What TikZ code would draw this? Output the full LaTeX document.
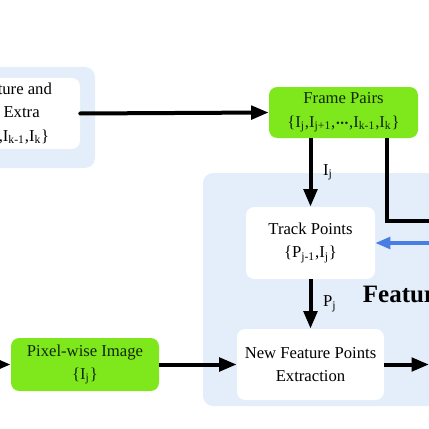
\documentclass[tikz,border=0pt]{standalone}
\usepackage{fontspec}
\setmainfont{Liberation Serif}
\usetikzlibrary{arrows.meta,positioning}
\definecolor{panelblue}{RGB}{228,238,250}
\definecolor{inputgreen}{RGB}{126,232,28}
\definecolor{textgreen}{RGB}{16,40,6}
\definecolor{feedblue}{RGB}{74,124,230}
\newcommand{\Isub}[1]{I\textsubscript{#1}}
\newcommand{\Psub}[1]{P\textsubscript{#1}}
\newcommand{\tightdots}{{\boldmath$\mathord{\cdot}\mkern-1mu\mathord{\cdot}\mkern-1mu\mathord{\cdot}$}}
\tikzset{
  panel/.style={fill=panelblue, rounded corners=6pt},
  stepbox/.style={fill=white, rounded corners=5pt, align=center, inner sep=0pt,
    font=\fontsize{10}{14}\selectfont},
  inbox/.style={fill=inputgreen, rounded corners=5pt, align=center, inner sep=0pt,
    text=textgreen, font=\fontsize{10}{14}\selectfont},
  flow/.style={line width=2.4pt, -{Triangle[length=10.5pt,width=8pt]}},
  flowlabel/.style={right, xshift=3pt, font=\fontsize{10}{12}\selectfont},
}
\begin{document}
\begin{tikzpicture}[x=0.6pt,y=-0.6pt]
\clip (0,0) rectangle (429,429);
% panels
\fill[panel] (-120,67) rectangle (95,168);
\fill[panel] (203,173) rectangle (470,406);
% boxes
\node[stepbox, minimum width=109.8pt, minimum height=42.6pt] (cap) at (-11.5,113.5)
  {Image Capture and\\Selecting Extra\\\{\Isub{1},\Isub{2},\Isub{3},\tightdots,\Isub{k-1},\Isub{k}\}};
\node[inbox, minimum width=89.4pt, minimum height=30.6pt] (fp) at (343.5,112.5)
  {Frame Pairs\\\{\Isub{j},\Isub{j+1},\tightdots,\Isub{k-1},\Isub{k}\}};
\node[stepbox, minimum width=77.4pt, minimum height=43.2pt] (tp) at (310.5,243)
  {Track Points\\\{\Psub{j-1},\Isub{j}\}};
\node[stepbox, minimum width=88.2pt, minimum height=42.6pt] (nf) at (310.5,364.5)
  {New Feature Points\\Extraction};
\node[inbox, minimum width=88.8pt, minimum height=31.8pt] (px) at (85,364.5)
  {Pixel-wise Image\\\{\Isub{j}\}};
\node[anchor=west, font=\fontsize{15}{18}\selectfont\bfseries] (ft) at (357,297) {Feature Tracking};
% loose ends
\coordinate (loopend) at (450,221);
\coordinate (feedin) at (450,243);
\coordinate (nfout) at (429,364.5);
\coordinate (pxin) at (-20,364.5);
% connectors
\draw[flow, line cap=round] (cap.east) -- (fp.west);
\draw[flow] (tp.north |- fp.south) -- node[flowlabel] {\Isub{j}} (tp.north);
\draw[line width=2.4pt] ([xshift=26pt]fp.south) |- (loopend);
\draw[line width=2pt, feedblue, -{Triangle[length=9pt,width=7pt]}] (feedin) -- (tp.east);
\draw[flow] (tp.south) -- node[flowlabel] {\Psub{j}} (nf.north);
\draw[flow] (px.east) -- (nf.west);
\draw[flow] (nf.east) -- (nfout);
\draw[flow] (pxin) -- (px.west);
\end{tikzpicture}
\end{document}
